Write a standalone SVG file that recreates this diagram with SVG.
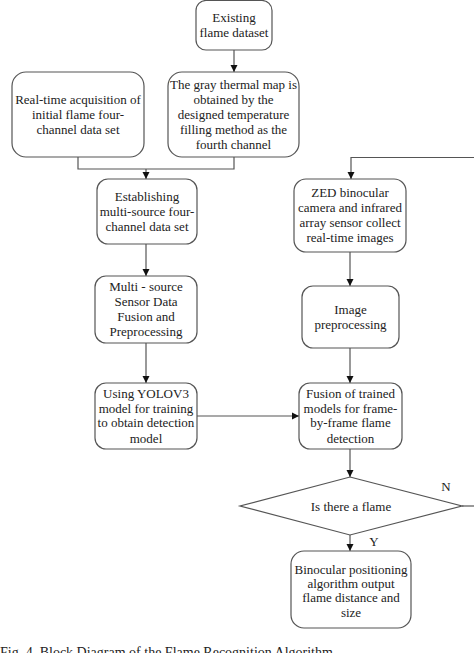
<svg xmlns="http://www.w3.org/2000/svg" width="474" height="653" viewBox="0 0 474 653">
<style>
.box{fill:#fff;stroke:#555;stroke-width:1.2}
.t{font-family:'Liberation Serif','DejaVu Serif',serif;font-size:13px;fill:#222;text-anchor:middle}
.c{fill:none;stroke:#555;stroke-width:1.2}
.cap{font-family:'Liberation Serif','DejaVu Serif',serif;font-size:14px;fill:#222}
</style>
<defs>
<marker id="ah" markerUnits="userSpaceOnUse" markerWidth="8" markerHeight="8" refX="7" refY="4" orient="auto">
<path d="M0,0.5 L7,4 L0,7.5 z" fill="#111"/>
</marker>
</defs>
<rect width="474" height="653" fill="#fff"/>
<g id="connectors">
<path class="c" d="M234,50 V72" marker-end="url(#ah)"/>
<path class="c" d="M78,157 V169 H234 V157"/>
<path class="c" d="M146,169 V179" marker-end="url(#ah)"/>
<path class="c" d="M474,157.5 H351 V179" marker-end="url(#ah)"/>
<path class="c" d="M146,244 V276" marker-end="url(#ah)"/>
<path class="c" d="M146,343 V383" marker-end="url(#ah)"/>
<path class="c" d="M197,416 H299" marker-end="url(#ah)"/>
<path class="c" d="M350,252 V286" marker-end="url(#ah)"/>
<path class="c" d="M350,348 V383" marker-end="url(#ah)"/>
<path class="c" d="M350,449 V477" marker-end="url(#ah)"/>
<path class="c" d="M350,535 V551" marker-end="url(#ah)"/>
<path class="c" d="M462,506 H474"/>
<text class="t" x="446" y="491" font-family="Liberation Serif">N</text>
<text class="t" x="374" y="546" font-family="Liberation Serif">Y</text>
</g>
<g id="existing">
<rect class="box" x="196" y="0.5" width="76" height="49.5" rx="10"/>
<text class="t" x="234" y="22">Existing</text>
<text class="t" x="234" y="37">flame dataset</text>
</g>
<g id="realtime">
<rect class="box" x="12" y="72" width="132" height="85" rx="14"/>
<text class="t" x="78" y="104">Real-time acquisition of</text>
<text class="t" x="78" y="119">initial flame four-</text>
<text class="t" x="78" y="134">channel data set</text>
</g>
<g id="gray">
<rect class="box" x="168" y="72" width="131" height="85" rx="14"/>
<text class="t" x="233.5" y="89">The gray thermal map is</text>
<text class="t" x="233.5" y="104">obtained by the</text>
<text class="t" x="233.5" y="119">designed temperature</text>
<text class="t" x="233.5" y="134">filling method as the</text>
<text class="t" x="233.5" y="149">fourth channel</text>
</g>
<g id="establishing">
<rect class="box" x="97" y="179" width="100" height="65" rx="11"/>
<text class="t" x="147" y="201">Establishing</text>
<text class="t" x="147" y="216">multi-source four-</text>
<text class="t" x="147" y="231">channel data set</text>
</g>
<g id="fusion-pre">
<rect class="box" x="95" y="276" width="102" height="67" rx="11"/>
<text class="t" x="146" y="291">Multi - source</text>
<text class="t" x="146" y="306">Sensor Data</text>
<text class="t" x="146" y="321">Fusion and</text>
<text class="t" x="146" y="336">Preprocessing</text>
</g>
<g id="yolo">
<rect class="box" x="95" y="383" width="102" height="66" rx="11"/>
<text class="t" x="146" y="398">Using YOLOV3</text>
<text class="t" x="146" y="413">model for training</text>
<text class="t" x="146" y="427">to obtain detection</text>
<text class="t" x="146" y="443">model</text>
</g>
<g id="zed">
<rect class="box" x="294" y="179" width="112" height="73" rx="12"/>
<text class="t" x="350" y="197">ZED binocular</text>
<text class="t" x="350" y="212">camera and infrared</text>
<text class="t" x="350" y="227">array sensor collect</text>
<text class="t" x="350" y="242">real-time images</text>
</g>
<g id="imgpre">
<rect class="box" x="302" y="286" width="97" height="62" rx="11"/>
<text class="t" x="350.5" y="314">Image</text>
<text class="t" x="350.5" y="329">preprocessing</text>
</g>
<g id="fusion">
<rect class="box" x="299" y="383" width="103" height="66" rx="11"/>
<text class="t" x="350.5" y="398">Fusion of trained</text>
<text class="t" x="350.5" y="413">models for frame-</text>
<text class="t" x="350.5" y="427">by-frame flame</text>
<text class="t" x="350.5" y="443">detection</text>
</g>
<g id="decision">
<path class="box" d="M350,477 L462,506 L350,535 L240,506 z"/>
<text class="t" x="351" y="511">Is there a flame</text>
</g>
<g id="binocular">
<rect class="box" x="291" y="551" width="120" height="77" rx="13"/>
<text class="t" x="351" y="574">Binocular positioning</text>
<text class="t" x="351" y="588">algorithm output</text>
<text class="t" x="351" y="602">flame distance and</text>
<text class="t" x="351" y="617">size</text>
</g>
<text class="cap" x="0" y="657">Fig. 4. Block Diagram of the Flame Recognition Algorithm</text>
</svg>
